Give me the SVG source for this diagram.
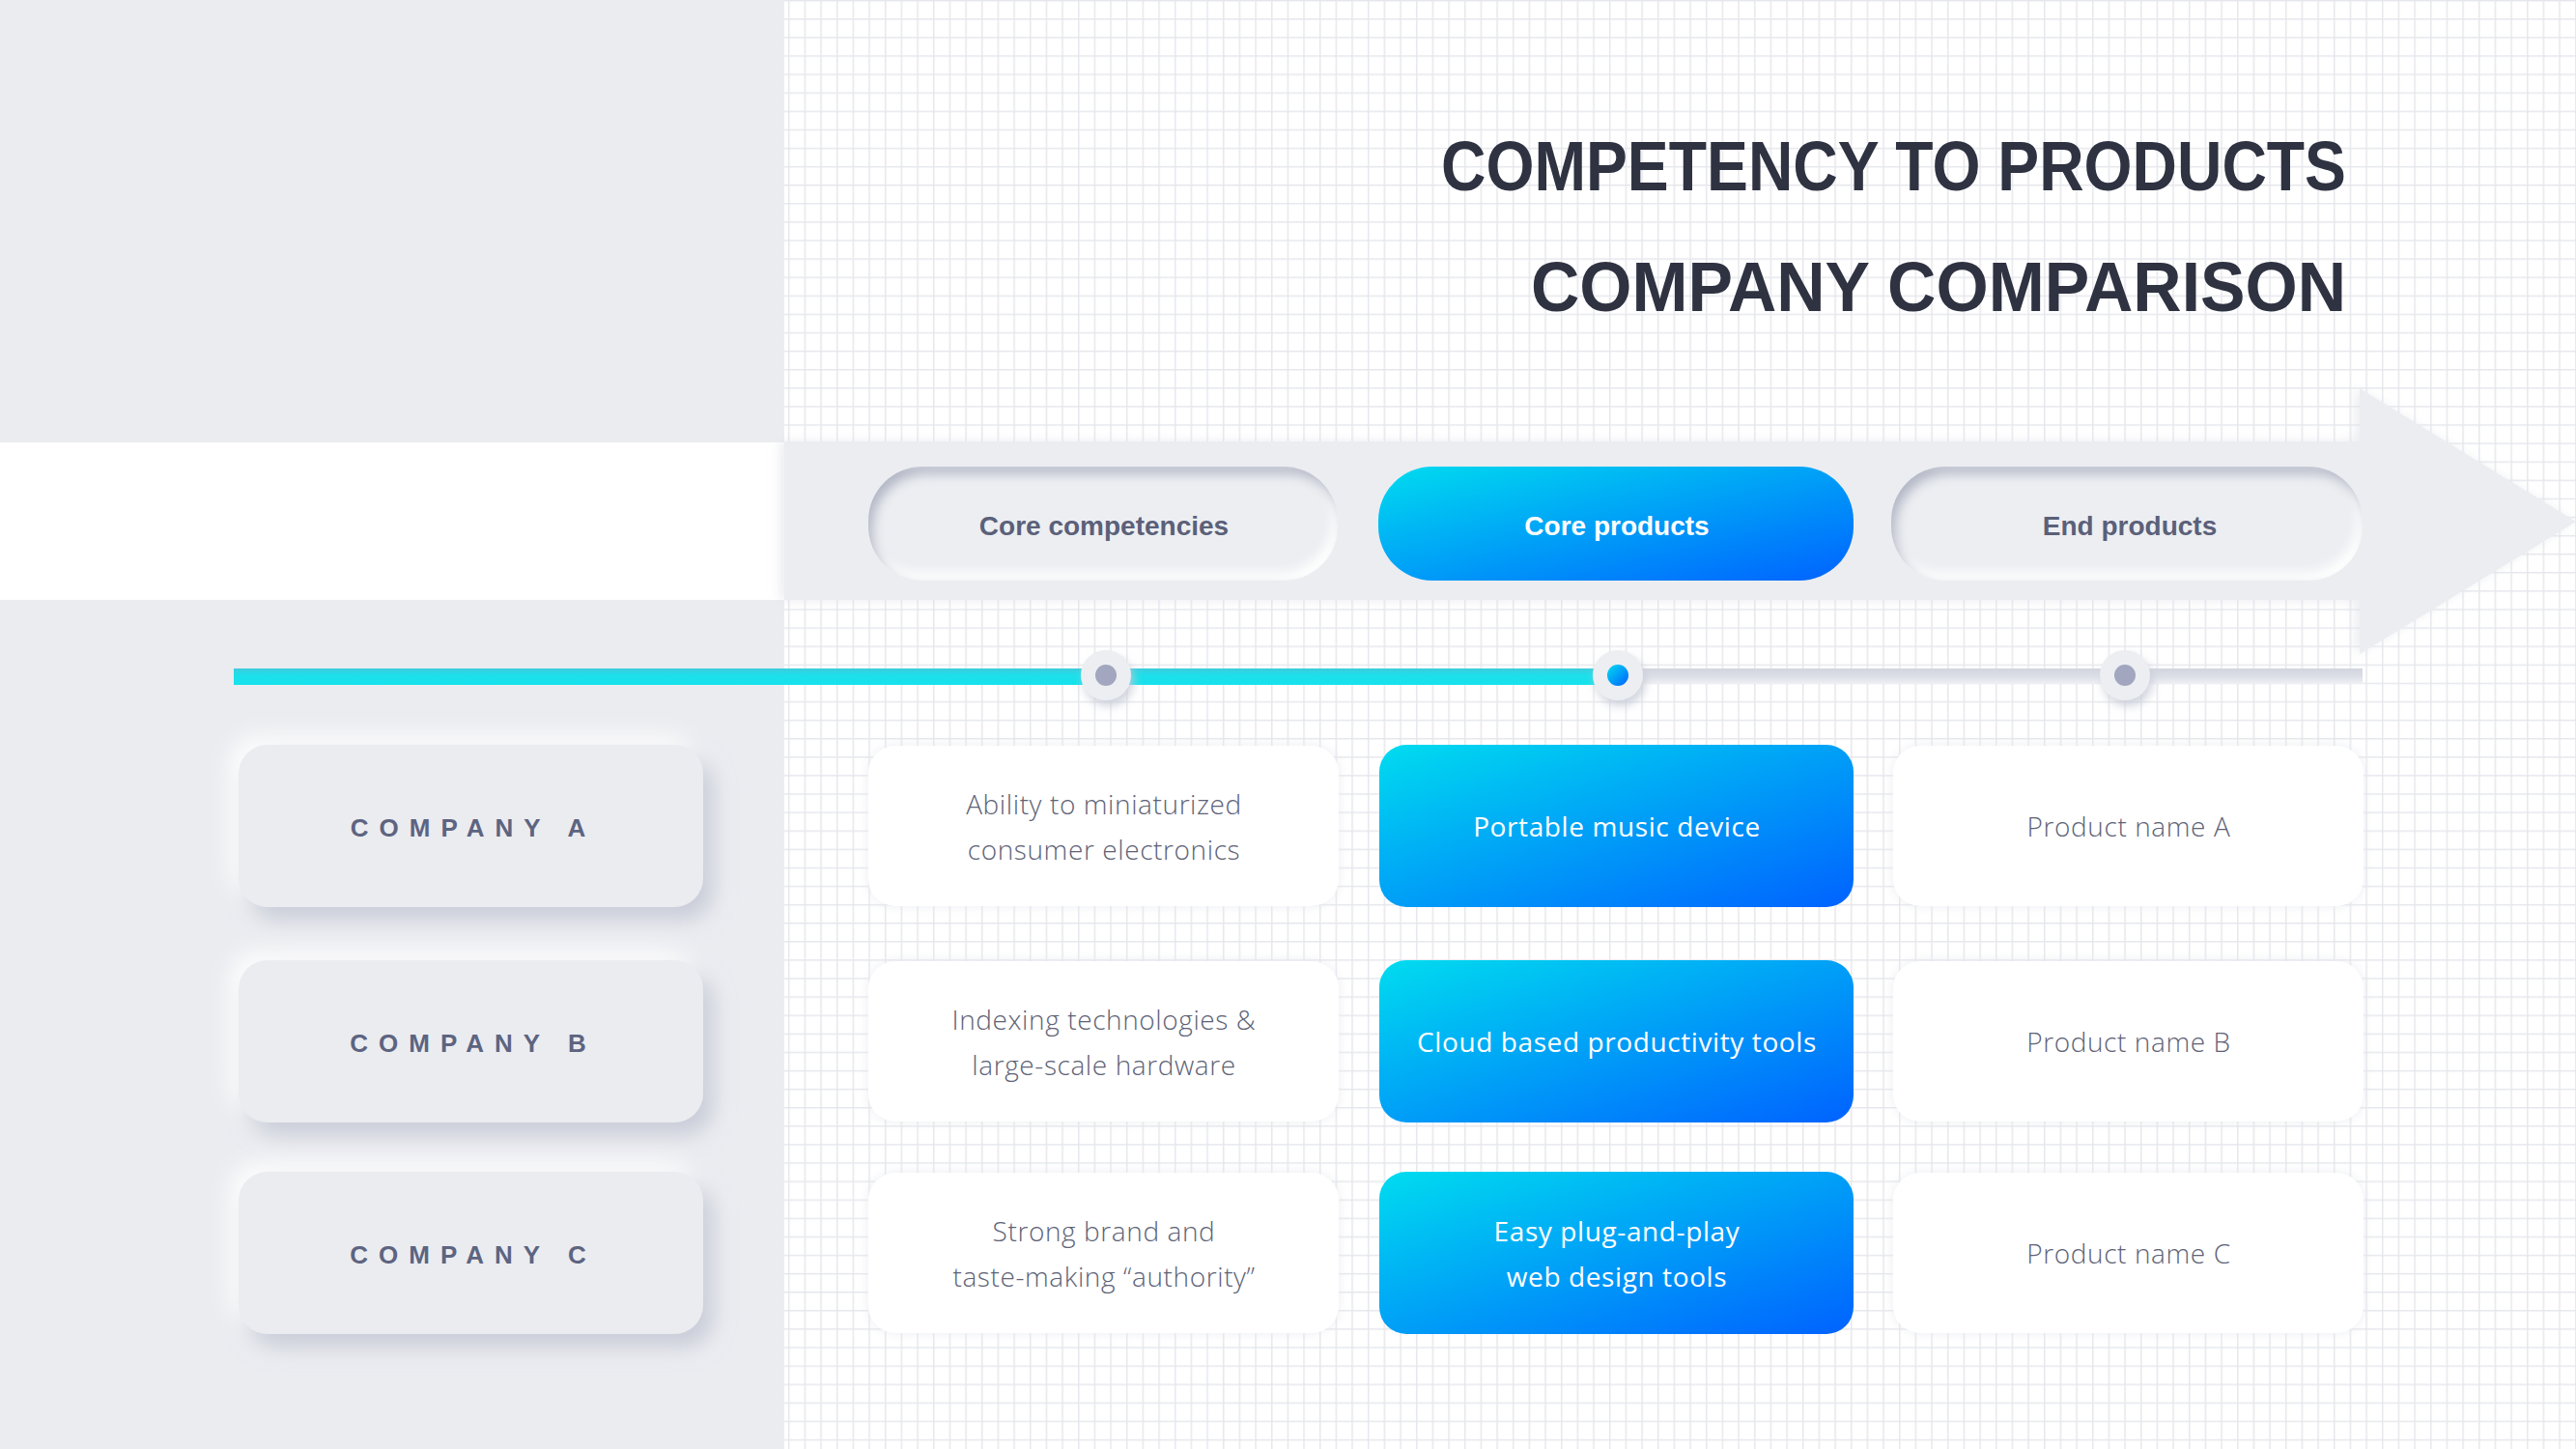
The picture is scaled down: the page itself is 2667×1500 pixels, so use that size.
<svg xmlns="http://www.w3.org/2000/svg" width="2667" height="1500" viewBox="0 0 2667 1500">
<defs>
  <style>
    .title{font-family:"Liberation Sans",Arial,sans-serif;font-weight:700;font-size:72px;fill:#2e3241;text-anchor:end}
    .pill{font-family:"Liberation Sans",Arial,sans-serif;font-weight:700;font-size:28px;fill:#5b6079;text-anchor:middle}
    .pillOn{fill:#ffffff}
    .comp{font-family:"Liberation Sans",Arial,sans-serif;font-weight:700;font-size:26px;fill:#5d6480;text-anchor:middle;letter-spacing:11px}
    .card{font-family:"Open Sans","Liberation Sans",Arial,sans-serif;font-weight:300;font-size:28px;letter-spacing:0.6px;fill:#5e6376;text-anchor:middle}
    .cardOn{fill:#ffffff;font-weight:400}
    .white{fill:#ffffff}
    .blue{fill:url(#blueGrad)}
    .box{fill:#ebecf0}
  </style>
  <pattern id="grid" x="812" y="0" width="16.667" height="19.1" patternUnits="userSpaceOnUse">
    <rect width="16.667" height="19.1" fill="#ffffff"/>
    <path d="M4.7 0V19.1M0 0.7H16.667" stroke="#e6e7ec" stroke-width="1.4" fill="none"/>
  </pattern>
  <linearGradient id="blueGrad" x1="0" y1="0" x2="1" y2="1">
    <stop offset="0" stop-color="#00dcef"/>
    <stop offset="1" stop-color="#0062ff"/>
  </linearGradient>
  <linearGradient id="cyanBar" x1="0" y1="0" x2="0" y2="1">
    <stop offset="0" stop-color="#3fcbdc"/>
    <stop offset="0.4" stop-color="#1ddfea"/>
    <stop offset="1" stop-color="#16e2ec"/>
  </linearGradient>
  <linearGradient id="greyBar" x1="0" y1="0" x2="0" y2="1">
    <stop offset="0" stop-color="#d2d5de"/>
    <stop offset="0.5" stop-color="#dcdee6"/>
    <stop offset="1" stop-color="#eef0f4"/>
  </linearGradient>
  <filter id="raised" x="-30%" y="-40%" width="160%" height="180%">
    <feGaussianBlur in="SourceAlpha" stdDeviation="11" result="b"/>
    <feOffset in="b" dx="10" dy="13" result="d"/>
    <feFlood flood-color="#c2c6d3" flood-opacity="0.85"/>
    <feComposite in2="d" operator="in" result="dark"/>
    <feOffset in="b" dx="-9" dy="-9" result="l"/>
    <feFlood flood-color="#ffffff" flood-opacity="0.95"/>
    <feComposite in2="l" operator="in" result="light"/>
    <feMerge><feMergeNode in="light"/><feMergeNode in="dark"/><feMergeNode in="SourceGraphic"/></feMerge>
  </filter>
  <filter id="soft" x="-10%" y="-15%" width="120%" height="130%">
    <feGaussianBlur in="SourceAlpha" stdDeviation="6" result="b"/>
    <feFlood flood-color="#e4e6ec" flood-opacity="0.7"/>
    <feComposite in2="b" operator="in" result="s"/>
    <feMerge><feMergeNode in="s"/><feMergeNode in="SourceGraphic"/></feMerge>
  </filter>
  <filter id="dotShadow" x="-60%" y="-60%" width="220%" height="220%">
    <feGaussianBlur in="SourceAlpha" stdDeviation="5" result="b"/>
    <feOffset in="b" dx="3" dy="6" result="d"/>
    <feFlood flood-color="#c6cad6" flood-opacity="0.8"/>
    <feComposite in2="d" operator="in" result="dark"/>
    <feMerge><feMergeNode in="dark"/><feMergeNode in="SourceGraphic"/></feMerge>
  </filter>
  <filter id="inset" x="-5%" y="-10%" width="110%" height="120%">
    <feFlood flood-color="#b3b7c6" result="c"/>
    <feComposite in="c" in2="SourceAlpha" operator="out" result="inv"/>
    <feGaussianBlur in="inv" stdDeviation="6" result="blur"/>
    <feOffset in="blur" dx="5" dy="8" result="off"/>
    <feComposite in="off" in2="SourceAlpha" operator="in" result="shadow"/>
    <feFlood flood-color="#ffffff" result="w"/>
    <feComposite in="w" in2="SourceAlpha" operator="out" result="winv"/>
    <feGaussianBlur in="winv" stdDeviation="6" result="wblur"/>
    <feOffset in="wblur" dx="-5" dy="-8" result="woff"/>
    <feComposite in="woff" in2="SourceAlpha" operator="in" result="hl"/>
    <feMerge><feMergeNode in="SourceGraphic"/><feMergeNode in="hl"/><feMergeNode in="shadow"/></feMerge>
  </filter>
  <filter id="bandEdge" x="-2%" y="-10%" width="104%" height="120%">
    <feGaussianBlur in="SourceAlpha" stdDeviation="6" result="b"/>
    <feOffset in="b" dx="-4" dy="0" result="o"/>
    <feFlood flood-color="#dcdee5" flood-opacity="0.6"/>
    <feComposite in2="o" operator="in" result="s"/>
    <feMerge><feMergeNode in="s"/><feMergeNode in="SourceGraphic"/></feMerge>
  </filter>
</defs>

<!-- background -->
<rect x="0" y="0" width="2667" height="1500" fill="url(#grid)"/>
<rect x="0" y="0" width="812" height="1500" fill="#ebecf0"/>
<rect x="0" y="458" width="812" height="163" fill="#ffffff"/>

<!-- arrow band -->
<g id="arrow-band">
  <path d="M812 457H2443V402L2667 540L2443 677V621H812Z" fill="#ecedf1" filter="url(#bandEdge)"/>
</g>

<!-- title -->
<g id="title">
  <text class="title" x="2429" y="197" textLength="937" lengthAdjust="spacingAndGlyphs">COMPETENCY TO PRODUCTS</text>
  <text class="title" x="2429" y="322" textLength="844" lengthAdjust="spacingAndGlyphs">COMPANY COMPARISON</text>
</g>

<!-- header pills -->
<g id="pill-core-competencies">
  <rect x="899" y="483" width="486" height="118" rx="56" fill="#eceef2" filter="url(#inset)"/>
  <text class="pill" x="1143" y="554">Core competencies</text>
</g>
<g id="pill-core-products">
  <rect x="1427" y="483" width="492" height="118" rx="56" class="blue"/>
  <text class="pill pillOn" x="1674" y="554">Core products</text>
</g>
<g id="pill-end-products">
  <rect x="1958" y="483" width="488" height="118" rx="56" fill="#eceef2" filter="url(#inset)"/>
  <text class="pill" x="2205" y="554">End products</text>
</g>

<!-- timeline connectors -->
<g id="connectors">
  <rect x="1673" y="692" width="773" height="16" fill="url(#greyBar)"/>
  <rect x="242" y="692" width="1431" height="17" fill="url(#cyanBar)"/>
</g>
<g id="dot-1">
  <circle cx="1145" cy="699" r="26" fill="#eceef2" filter="url(#dotShadow)"/>
  <circle cx="1145" cy="699" r="11" fill="#a2a6bf"/>
</g>
<g id="dot-2">
  <circle cx="1675" cy="699" r="26" fill="#eceef2" filter="url(#dotShadow)"/>
  <circle cx="1675" cy="699" r="11" class="blue"/>
</g>
<g id="dot-3">
  <circle cx="2200" cy="699" r="26" fill="#eceef2" filter="url(#dotShadow)"/>
  <circle cx="2200" cy="699" r="11" fill="#a2a6bf"/>
</g>

<!-- company labels -->
<g id="company-a">
  <rect x="247" y="771" width="481" height="168" rx="30" class="box" filter="url(#raised)"/>
  <text class="comp" x="490" y="866">COMPANY A</text>
</g>
<g id="company-b">
  <rect x="247" y="994" width="481" height="168" rx="30" class="box" filter="url(#raised)"/>
  <text class="comp" x="490" y="1089">COMPANY B</text>
</g>
<g id="company-c">
  <rect x="247" y="1213" width="481" height="168" rx="30" class="box" filter="url(#raised)"/>
  <text class="comp" x="490" y="1308">COMPANY C</text>
</g>

<!-- row A -->
<g id="a-competency">
  <rect x="899" y="772" width="487" height="166" rx="28" class="white" filter="url(#soft)"/>
  <text class="card" x="1143" y="843">Ability to miniaturized</text>
  <text class="card" x="1143" y="890">consumer electronics</text>
</g>
<g id="a-core-product">
  <rect x="1428" y="771" width="491" height="168" rx="28" class="blue"/>
  <text class="card cardOn" x="1674" y="866">Portable music device</text>
</g>
<g id="a-end-product">
  <rect x="1960" y="772" width="487" height="166" rx="28" class="white" filter="url(#soft)"/>
  <text class="card" x="2204" y="866">Product name A</text>
</g>

<!-- row B -->
<g id="b-competency">
  <rect x="899" y="995" width="487" height="166" rx="28" class="white" filter="url(#soft)"/>
  <text class="card" x="1143" y="1066">Indexing technologies &amp;</text>
  <text class="card" x="1143" y="1113">large-scale hardware</text>
</g>
<g id="b-core-product">
  <rect x="1428" y="994" width="491" height="168" rx="28" class="blue"/>
  <text class="card cardOn" x="1674" y="1089">Cloud based productivity tools</text>
</g>
<g id="b-end-product">
  <rect x="1960" y="995" width="487" height="166" rx="28" class="white" filter="url(#soft)"/>
  <text class="card" x="2204" y="1089">Product name B</text>
</g>

<!-- row C -->
<g id="c-competency">
  <rect x="899" y="1214" width="487" height="166" rx="28" class="white" filter="url(#soft)"/>
  <text class="card" x="1143" y="1285">Strong brand and</text>
  <text class="card" x="1143" y="1332">taste-making “authority”</text>
</g>
<g id="c-core-product">
  <rect x="1428" y="1213" width="491" height="168" rx="28" class="blue"/>
  <text class="card cardOn" x="1674" y="1285">Easy plug-and-play</text>
  <text class="card cardOn" x="1674" y="1332">web design tools</text>
</g>
<g id="c-end-product">
  <rect x="1960" y="1214" width="487" height="166" rx="28" class="white" filter="url(#soft)"/>
  <text class="card" x="2204" y="1308">Product name C</text>
</g>
</svg>
